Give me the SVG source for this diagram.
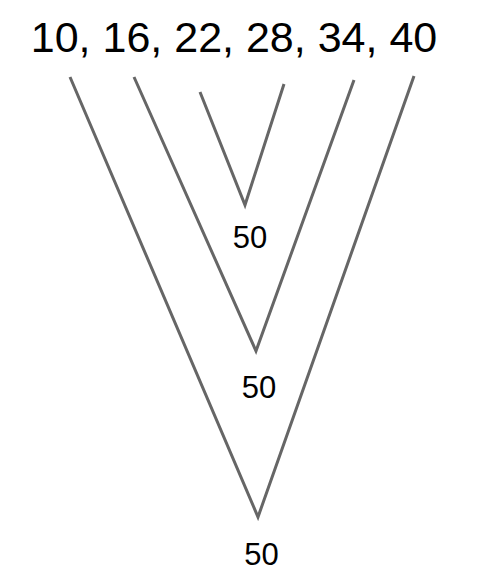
<svg xmlns="http://www.w3.org/2000/svg" width="482" height="586" viewBox="0 0 482 586">
<style>
.t{font-family:"Liberation Sans",Arial,sans-serif;fill:#000;text-anchor:middle}
.l{stroke:#666;stroke-width:3;fill:none}
</style>
<rect width="482" height="586" fill="#fff"/>
<g id="title"><text class="t" x="234" y="52" font-size="43">10, 16, 22, 28, 34, 40</text></g>
<g id="connectors">
<path class="l" d="M200,92 L245,205 L284,84"/>
<path class="l" d="M134,77 L256,351 L354,80"/>
<path class="l" d="M70,77 L258,517 L414,76"/>
</g>
<g id="n1"><text class="t" x="250" y="248" font-size="31">50</text></g>
<g id="n2"><text class="t" x="259" y="398" font-size="31">50</text></g>
<g id="n3"><text class="t" x="261.5" y="565" font-size="31">50</text></g>
</svg>
